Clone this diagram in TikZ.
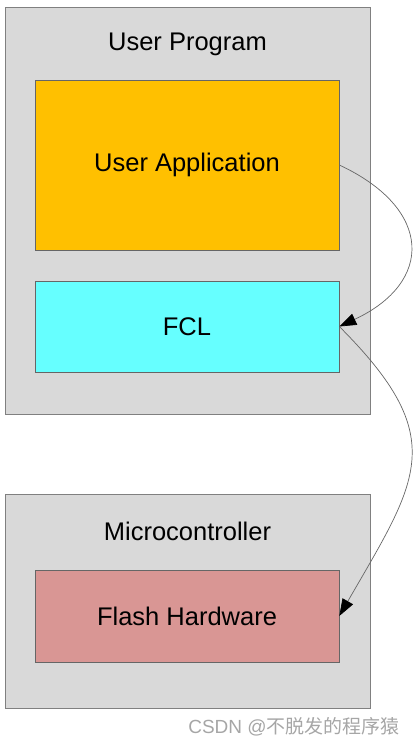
\documentclass[tikz,border=0pt]{standalone}
\usepackage{fontspec}
\setmainfont{Liberation Sans}
\newfontfamily\cjkfont{Noto Sans CJK SC}
\usetikzlibrary{positioning,arrows.meta}

\definecolor{layergray}{RGB}{217,217,217}
\definecolor{appyellow}{RGB}{255,192,0}
\definecolor{fclcyan}{RGB}{102,255,255}
\definecolor{flashred}{RGB}{217,150,148}

\tikzset{
  layer/.style = {draw = gray, fill = layergray, shape = rectangle, line width = 0.8pt, minimum width = 365pt, inner sep = 0pt},
  block/.style = {draw = black!60, shape = rectangle, line width = 0.6pt, minimum width = 304pt, inner sep = 0pt, font = \fontsize{25.5}{30}\selectfont},
  title/.style = {font = \fontsize{25.5}{30}\selectfont},
  call/.style = {draw = black!60, line width = 0.7pt, -{Triangle[length=17pt,width=12pt,color=black]}}
}

\begin{document}
\begin{tikzpicture}[x = 1pt, y = -1pt]
\useasboundingbox (0,0) rectangle (416,748);
\node[layer, minimum height = 407pt] (prog) at (187.5,210.5) {};
\node[layer, minimum height = 214pt] (mcu) at (187.5,601) {};
\node[title] (progtitle) at (187.5,44) {User Program};
\node[title] (mcutitle) at (187.5,531) {Microcontroller};
\node[block, fill = appyellow, minimum height = 170pt] (app) at (187,165) {User Application};
\node[block, fill = fclcyan, minimum height = 91pt] (fcl) at (187,326.5) {FCL};
\node[block, fill = flashred, minimum height = 92pt] (flash) at (187,616) {Flash Hardware};
% calls
\draw[call] (app.east) to[out = -25, in = 25, looseness = 1.65] (fcl.east);
\draw[call] (fcl.east) to[out = -45, in = 60, looseness = 1.4] (flash.east);
\node[text = black!35, font = \fontsize{19}{22}\selectfont] (mark) at (294,727) {CSDN @{\cjkfont 不脱发的程序猿}};
\end{tikzpicture}
\end{document}
